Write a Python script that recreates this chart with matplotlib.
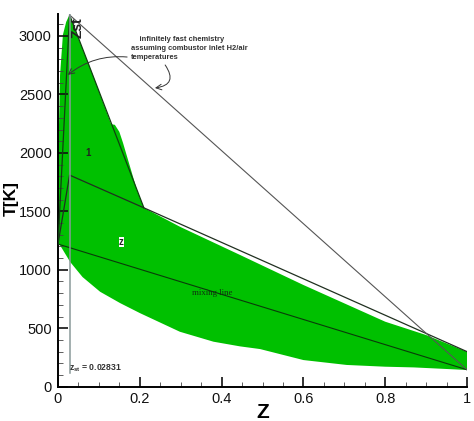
import numpy as np
import matplotlib
matplotlib.use("Agg")
import matplotlib.pyplot as plt

plt.rcParams["font.family"] = ["Liberation Sans", "DejaVu Sans"]

# scatter envelope
upper_z = [0, 0.001, 0.005, 0.012, 0.02, 0.028, 0.05, 0.086, 0.13, 0.139, 0.15, 0.159, 0.193, 0.21,
           0.3, 0.445, 0.6, 0.8, 0.9, 1]
upper_t = [1220, 2000, 2665, 3010, 3120, 3180, 2980, 2660, 2245, 2240, 2180, 2085, 1682, 1530,
           1365, 1127, 870, 556, 442, 299]
lower_z = [1, 0.87, 0.8, 0.706, 0.6, 0.494, 0.445, 0.38, 0.298, 0.2, 0.152, 0.103, 0.06, 0.03, 0.005, 0]
lower_t = [143, 165, 171, 186, 228, 322, 345, 385, 470, 630, 715, 812, 938, 1066, 1210, 1220]

Z_ST = 0.02831
mixing_z = [0, 1]
mixing_t = [1220, 145]
case2_z = [0, Z_ST, 0.21, 1]
case2_t = [1220, 1810, 1530, 300]
case1_z = [0, Z_ST, 0.21]
case1_t = [1220, 3180, 1530]
fast_z = [Z_ST, 1]
fast_t = [3180, 145]

GREEN = "#00c000"

fig = plt.figure(figsize=(4.74, 4.21), dpi=100)
ax = fig.add_axes([58 / 474, (421 - 386.7) / 421, 409 / 474, (386.7 - 14) / 421])

ax.fill(upper_z + lower_z, upper_t + lower_t, color=GREEN, lw=0, zorder=1)

ax.plot(mixing_z, mixing_t, color="#0a3a0a", lw=0.8, zorder=3)
ax.plot(case2_z, case2_t, color="#203020", lw=0.9, zorder=3)
ax.plot(case1_z, case1_t, color="#104010", lw=0.9, zorder=3)
ax.plot(fast_z, fast_t, color="#555555", lw=0.8, zorder=3)
ax.plot([Z_ST, Z_ST], [120, 3188], color="#8a9a9a", lw=1.1, zorder=4)

ax.set_xlim(0, 1)
ax.set_ylim(0, 3188)
ax.spines["top"].set_visible(False)
ax.spines["right"].set_visible(False)
ax.spines["left"].set_linewidth(1.4)
ax.spines["bottom"].set_linewidth(1.4)

ax.set_xticks([0, 0.2, 0.4, 0.6, 0.8, 1])
ax.set_xticklabels(["0", "0.2", "0.4", "0.6", "0.8", "1"])
ax.set_yticks([0, 500, 1000, 1500, 2000, 2500, 3000])
ax.set_xticks(np.arange(0, 1.01, 0.05), minor=True)
ax.set_yticks(np.arange(0, 3188, 100), minor=True)
ax.tick_params(axis="both", which="major", direction="in", length=7, width=1.2, labelsize=10.5, colors="#111111")
ax.tick_params(axis="x", which="major", pad=3.5)
ax.tick_params(axis="y", which="major", pad=4.5)
ax.tick_params(axis="both", which="minor", direction="in", length=3.6, width=0.6, color="#444444")
ax.set_xlabel("Z", fontsize=15, fontweight="bold")
ax.xaxis.set_label_coords(0.5, -0.045)
ax.set_ylabel("T[K]", fontsize=12.5, fontweight="bold")
ax.yaxis.set_label_coords(-0.095, 0.504)

ax.text(0.049, 3160, "Zst", rotation=90, fontsize=10, fontweight="bold", ha="center", va="top", color="#222222", zorder=5)
ax.text(0.073, 2000, "1", fontsize=7, fontweight="bold", ha="center", va="center", color="#222222", zorder=5)
ax.text(0.155, 1235, "z", fontsize=7, fontweight="bold", ha="center", va="center", color="#222222", zorder=5,
        bbox=dict(fc="white", ec="none", pad=0))
ax.text(0.377, 801, "mixing line", fontsize=6.3, family="Liberation Serif", ha="center", va="center", color="#103010", zorder=5)
ax.text(0.027, 155, r"z$_{\mathregular{st}}$ = 0.02831", fontsize=6.2, fontweight="bold", ha="left", va="center", color="#333333", zorder=5)

ax.text(0.178, 2897, "    infinitely fast chemistry\nassuming combustor inlet H2/air\ntemperatures", fontsize=5.4,
        fontweight="bold", ha="left", va="center", color="#333333", linespacing=1.4, zorder=5)
ax.annotate("", xy=(0.024, 2667), xytext=(0.169, 2820),
            arrowprops=dict(arrowstyle="->", color="#333333", lw=0.7, connectionstyle="arc3,rad=0.2", shrinkA=0, shrinkB=0), zorder=5)
ax.annotate("", xy=(0.237, 2555), xytext=(0.262, 2752),
            arrowprops=dict(arrowstyle="->", color="#333333", lw=0.7, connectionstyle="arc3,rad=-0.8", shrinkA=0, shrinkB=0), zorder=5)

fig.savefig("out.png", dpi=100)
